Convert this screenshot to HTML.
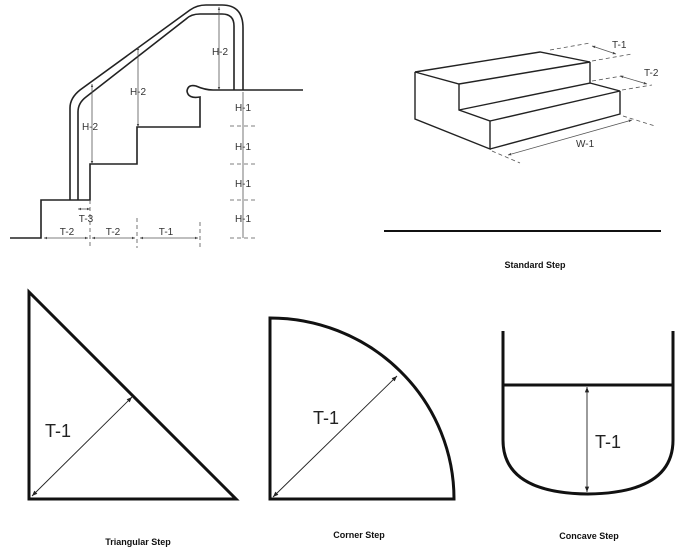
<!DOCTYPE html>
<html><head><style>
html,body{margin:0;padding:0;background:#fff;}
svg{display:block;}
text{font-family:"Liberation Sans",sans-serif;}
</style></head><body>
<svg width="681" height="548" viewBox="0 0 681 548" xmlns="http://www.w3.org/2000/svg">
<defs>
<marker id="a" viewBox="0 0 10 10" refX="10" refY="5" markerWidth="6" markerHeight="6" orient="auto-start-reverse"><path d="M0,1 L10,5 L0,9 z" fill="#222"/></marker>
<marker id="s" viewBox="0 0 10 10" refX="10" refY="5" markerWidth="4" markerHeight="4" orient="auto-start-reverse"><path d="M0,1 L10,5 L0,9 z" fill="#444"/></marker>
</defs>
<!-- Left stair elevation -->
<g fill="none" stroke="#222" stroke-width="1.6">
<path d="M10,238 H41 V200 H90 V164 H137 V127 H200 V97 Q188,99 187,91 Q188,84 196,86 Q205,90 213,90 H303"/>
<path d="M70,200 V108 Q70,98 80,90 L190,10 Q197,5 206,5 H222 Q243,5 243,28 V90"/>
<path d="M78,200 V112 Q78,103 86,97 L186,19 Q191,14 200,14 H222 Q234,14 234,26 V90"/>
</g>
<g stroke="#555" stroke-width="0.8" fill="none">
<line x1="92" y1="84" x2="92" y2="164" marker-start="url(#s)" marker-end="url(#s)"/>
<line x1="138" y1="47" x2="138" y2="127" marker-start="url(#s)" marker-end="url(#s)"/>
<line x1="219" y1="7" x2="219" y2="90" marker-start="url(#s)" marker-end="url(#s)"/>
<line x1="78" y1="209" x2="90" y2="209" marker-start="url(#s)" marker-end="url(#s)"/>
<line x1="44" y1="238" x2="88" y2="238" marker-start="url(#s)" marker-end="url(#s)"/>
<line x1="92" y1="238" x2="135" y2="238" marker-start="url(#s)" marker-end="url(#s)"/>
<line x1="140" y1="238" x2="198" y2="238" marker-start="url(#s)" marker-end="url(#s)"/>
<line x1="243" y1="92" x2="243" y2="238"/>
<g stroke-dasharray="4,3">
<line x1="90" y1="200" x2="90" y2="248"/>
<line x1="137" y1="218" x2="137" y2="248"/>
<line x1="200" y1="222" x2="200" y2="248"/>
<line x1="230" y1="126" x2="258" y2="126"/>
<line x1="230" y1="164" x2="258" y2="164"/>
<line x1="230" y1="200" x2="258" y2="200"/>
<line x1="230" y1="238" x2="258" y2="238"/>
</g>
</g>
<g font-size="10" fill="#333" text-anchor="middle">
<text x="220" y="55">H-2</text>
<text x="138" y="95">H-2</text>
<text x="90" y="130">H-2</text>
<text x="243" y="111">H-1</text>
<text x="243" y="150">H-1</text>
<text x="243" y="187">H-1</text>
<text x="243" y="222">H-1</text>
<text x="86" y="222">T-3</text>
<text x="67" y="235">T-2</text>
<text x="113" y="235">T-2</text>
<text x="166" y="235">T-1</text>
</g>
<!-- Standard step iso -->
<g fill="none" stroke="#222" stroke-width="1.4">
<path d="M415,72 L540,52 L590,62 L459,84 Z"/>
<path d="M415,72 V119 L490,149 V121 L459,110 V84"/>
<path d="M590,62 V83 L459,110"/>
<path d="M590,83 L620,91 L490,121"/>
<path d="M620,91 V114 L490,149"/>
</g>
<g stroke="#555" stroke-width="0.8" fill="none">
<g stroke-dasharray="4,3">
<line x1="550" y1="50" x2="590" y2="43"/>
<line x1="592" y1="61" x2="632" y2="54"/>
<line x1="592" y1="81" x2="622" y2="76"/>
<line x1="622" y1="90" x2="652" y2="85"/>
<line x1="623" y1="116" x2="655" y2="126"/>
<line x1="492" y1="151" x2="520" y2="163"/>
</g>
<line x1="592" y1="46" x2="616" y2="54" marker-start="url(#s)" marker-end="url(#s)"/>
<line x1="620" y1="76" x2="647" y2="84" marker-start="url(#s)" marker-end="url(#s)"/>
<line x1="508" y1="155" x2="632" y2="120" marker-start="url(#s)" marker-end="url(#s)"/>
</g>
<g font-size="10" fill="#333">
<text x="612" y="48">T-1</text>
<text x="644" y="76">T-2</text>
<text x="576" y="147">W-1</text>
</g>
<line x1="384" y1="231" x2="661" y2="231" stroke="#111" stroke-width="2"/>
<text x="535" y="268" font-size="9" font-weight="bold" text-anchor="middle" fill="#111">Standard Step</text>
<!-- Bottom shapes -->
<g fill="none" stroke="#111" stroke-width="3">
<path d="M29,292 V499 H236 Z" stroke-linejoin="miter"/>
<path d="M270,318 V499 H454 A184,181 0 0 0 270,318 Z"/>
<path d="M503,331 V440 Q503,493 588,494 Q673,493 673,440 V331 M503,385 H673"/>
</g>
<g stroke="#222" stroke-width="0.9">
<line x1="32" y1="496" x2="132" y2="397" marker-start="url(#a)" marker-end="url(#a)"/>
<line x1="273" y1="497" x2="397" y2="376" marker-start="url(#a)" marker-end="url(#a)"/>
<line x1="587" y1="387" x2="587" y2="492" marker-start="url(#a)" marker-end="url(#a)"/>
</g>
<g font-size="18" fill="#222">
<text x="45" y="437">T-1</text>
<text x="313" y="424">T-1</text>
<text x="595" y="448">T-1</text>
</g>
<g font-size="9" font-weight="bold" fill="#111" text-anchor="middle">
<text x="138" y="545">Triangular Step</text>
<text x="359" y="538">Corner Step</text>
<text x="589" y="539">Concave Step</text>
</g>
</svg>
</body></html>
